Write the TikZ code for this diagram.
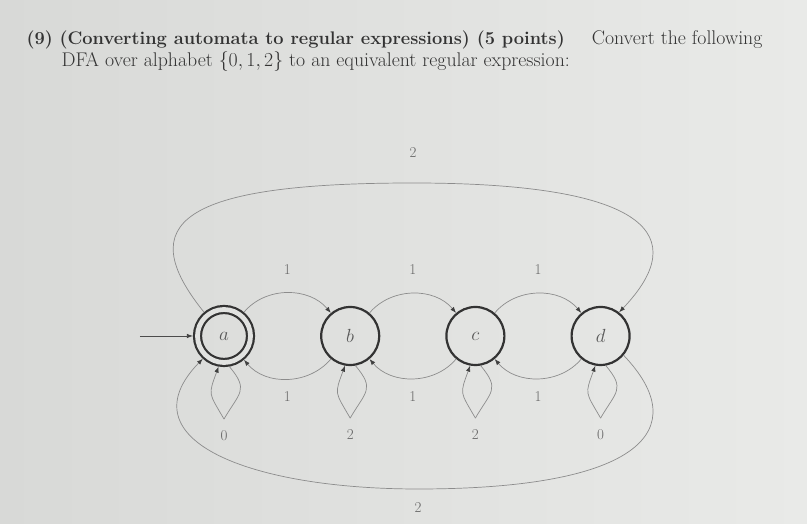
\RequirePackage{fix-cm}
\documentclass[tikz,border=0pt]{standalone}
\usepackage{amssymb}
\usetikzlibrary{arrows.meta,positioning}

\definecolor{screenL}{RGB}{216,217,215}
\definecolor{screenR}{RGB}{233,234,232}
\definecolor{screen}{RGB}{225,226,224}

\begin{document}
\begin{tikzpicture}[x=1pt, y=1pt, node distance=65pt,
	>={Latex[length=6pt, width=4.5pt, color=black!75]},
	state/.style={circle, draw=black!80, line width=2.2pt, minimum size=58pt, inner sep=0pt, text=black!65, font=\fontsize{19}{19}\selectfont},
	accept/.style={state, double=screen, double distance=4.8pt, minimum size=53pt, outer sep=4.6pt},
	trans/.style={draw=black!45, line width=0.7pt},
	lbl/.style={text=black!60, font=\fontsize{15}{15}\selectfont},
	task/.style={anchor=base west, text=black!80, font=\fontsize{19.8}{22}\selectfont}]
% screen background, fixes the margins
\fill[left color=screenL, right color=screenR] (0,0) rectangle (807,524);

\node[task] (head) at (23,479) {{\fontsize{18.25}{22}\selectfont\bfseries (9) (Converting automata to regular expressions) (5 points)}\hspace{27pt}Convert the following};
\node[task] (body) at (58,457) {DFA over alphabet $\{0,1,2\}$ to an equivalent regular expression:};

\node[accept] (a) at (224,188) {$a$};
\node[state] (b) [right=of a] {$b$};
\node[state] (c) [right=of b] {$c$};
\node[state] (d) [right=of c] {$d$};

\coordinate[left=53pt of a] (init);
\coordinate[below=52pt of a] (la);
\coordinate[below=52pt of b] (lb);
\coordinate[below=52pt of c] (lc);
\coordinate[below=52pt of d] (ld);
\coordinate (top2) at (413,341);
\coordinate (bot2) at (418,35);

\draw[->, draw=black!70, line width=0.8pt] (init) -- (a);

\path[->, every edge/.append style={trans}]
(a) edge[out=50, in=130] node[lbl, above=15pt] {1} (b)
(b) edge[out=50, in=130] node[lbl, above=15pt] {1} (c)
(c) edge[out=50, in=130] node[lbl, above=15pt] {1} (d)
(b) edge[out=-130, in=-50] node[lbl, below=9pt] {1} (a)
(c) edge[out=-130, in=-50] node[lbl, below=9pt] {1} (b)
(d) edge[out=-130, in=-50] node[lbl, below=9pt] {1} (c)
;
% self loops
\path[->, looseness=1.5, every edge/.append style={trans}]
(a.-80) edge[-, out=-50, in=60] (la)
(la) edge[out=120, in=-110] node[lbl, at start, below=8pt] {0} (a.-100)
(b.-80) edge[-, out=-50, in=60] (lb)
(lb) edge[out=120, in=-110] node[lbl, at start, below=8pt] {2} (b.-100)
(c.-80) edge[-, out=-50, in=60] (lc)
(lc) edge[out=120, in=-110] node[lbl, at start, below=8pt] {2} (c.-100)
(d.-80) edge[-, out=-50, in=60] (ld)
(ld) edge[out=120, in=-110] node[lbl, at start, below=8pt] {0} (d.-100)
;
% the two long arcs
\draw[->, trans] (a.130) .. controls (132,301) and (180,341) .. (top2) node[lbl, above=22pt] {2}
	.. controls (650,341) and (692,288) .. (d.52);
\draw[->, trans] (d.-40) .. controls (695,94) and (640,35) .. (bot2) node[lbl, below=9.5pt] {2}
	.. controls (250,35) and (124,84) .. (a.-133);
\end{tikzpicture}
\end{document}
